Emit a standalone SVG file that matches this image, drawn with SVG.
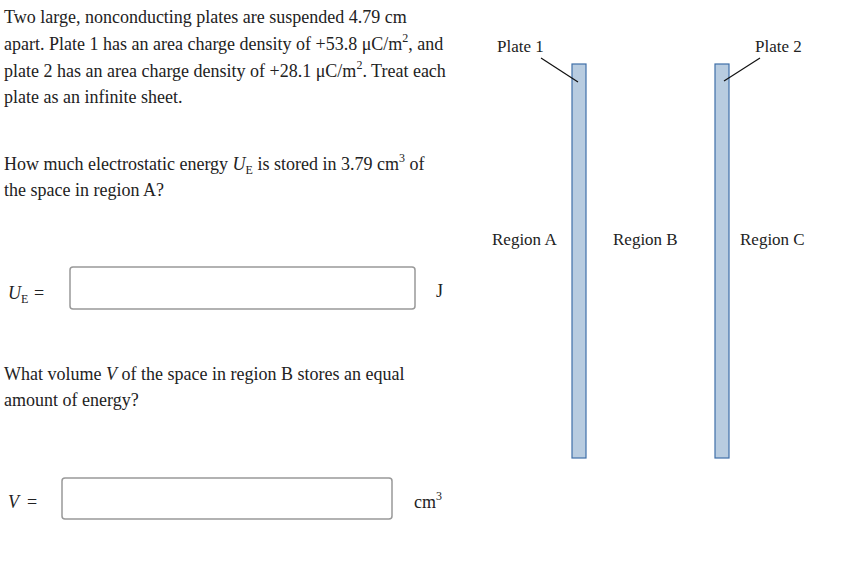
<svg xmlns="http://www.w3.org/2000/svg" width="862" height="575" viewBox="0 0 862 575">
<style>
text{font-family:"Liberation Serif",serif;font-size:18px;fill:#222}
.lab{font-size:17px}
.box{fill:#fff;stroke:#999;stroke-width:1.5}
.plate{fill:#b8cce0;stroke:#3f6fa8;stroke-width:1.2}
.lead{stroke:#111;stroke-width:1.2}
</style>
<rect width="862" height="575" fill="#fff"/>
<g id="question">
<text x="4" y="23">Two large, nonconducting plates are suspended 4.79 cm</text>
<text x="4" y="50">apart. Plate 1 has an area charge density of +53.8 μC/m<tspan dy="-8" font-size="12">2</tspan><tspan dy="8">, and</tspan></text>
<text x="4" y="77">plate 2 has an area charge density of +28.1 μC/m<tspan dy="-8" font-size="12">2</tspan><tspan dy="8">. Treat each</tspan></text>
<text x="4" y="103">plate as an infinite sheet.</text>
<text x="4" y="170">How much electrostatic energy <tspan font-style="italic">U</tspan><tspan dy="4" font-size="12">E</tspan><tspan dy="-4"> is stored in 3.79 cm</tspan><tspan dy="-8" font-size="12">3</tspan><tspan dy="8"> of</tspan></text>
<text x="4" y="196">the space in region A?</text>
<text x="4" y="380">What volume <tspan font-style="italic">V</tspan> of the space in region B stores an equal</text>
<text x="4" y="406">amount of energy?</text>
</g>
<g id="answer1">
<text x="8" y="299"><tspan font-style="italic">U</tspan><tspan dy="4" font-size="12">E</tspan><tspan dy="-4" x="34">=</tspan></text>
<rect class="box" x="70" y="267" width="345" height="42" rx="3"/>
<text x="436" y="297">J</text>
</g>
<g id="answer2">
<text x="8" y="508"><tspan font-style="italic">V</tspan><tspan x="27">=</tspan></text>
<rect class="box" x="62" y="478" width="330" height="41" rx="3"/>
<text x="414" y="508">cm<tspan dy="-8" font-size="12">3</tspan></text>
</g>
<g id="plate1"><rect class="plate" x="572" y="64" width="14" height="394"/><text class="lab" x="497" y="52">Plate 1</text></g>
<g id="plate2"><rect class="plate" x="715" y="64" width="14" height="394"/><text class="lab" x="755" y="52">Plate 2</text></g>
<g id="regions">
<text class="lab" x="492" y="245">Region A</text>
<text class="lab" x="613" y="245">Region B</text>
<text class="lab" x="740" y="245">Region C</text>
</g>
<g id="connectors">
<line class="lead" x1="541" y1="58" x2="578" y2="82"/>
<line class="lead" x1="760" y1="58" x2="724" y2="81"/>
</g>
</svg>
